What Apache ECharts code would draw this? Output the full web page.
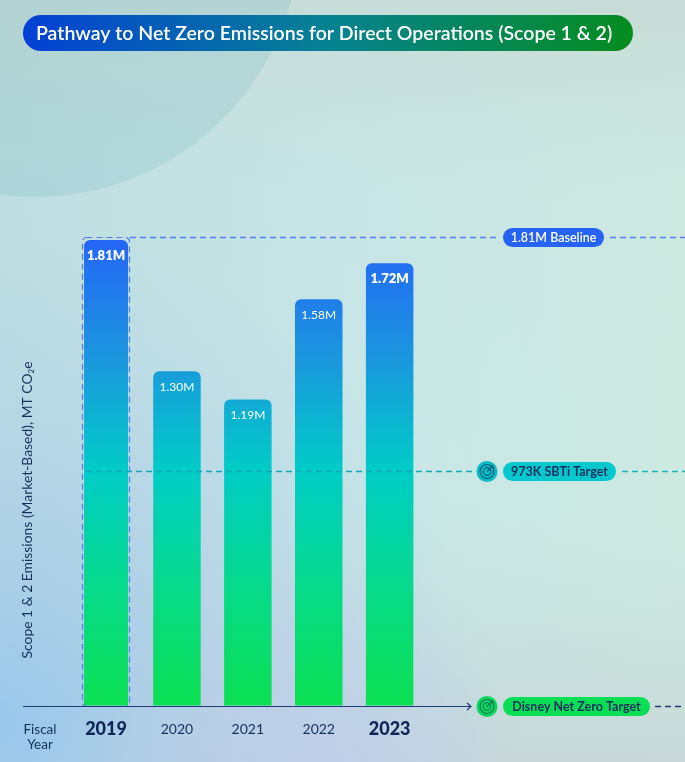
<!DOCTYPE html>
<html><head><meta charset="utf-8">
<style>html,body{margin:0;padding:0;background:#c8dfe0}#c{width:685px;height:762px}</style>
<script src="https://cdn.jsdelivr.net/npm/echarts@6/dist/echarts.min.js"></script>
</head><body><div id="c"></div>
<script>
const years = ['2019','2020','2021','2022','2023'];
const emphasised = ['2019','2023'];
const emissions = [1.81,1.30,1.19,1.58,1.72];
const valueLabels = ['1.81M','1.30M','1.19M','1.58M','1.72M'];
const baselineValue = 1.82;
const targetLineValue = 0.91;
const zeroValue = 0;
const titleText = 'Pathway to Net Zero Emissions for Direct Operations (Scope 1 & 2)';
const baselineText = '1.81M Baseline';
const targetText = '973K SBTi Target';
const zeroText = 'Disney Net Zero Target';

const FONT = 'Lato, "Noto Sans", sans-serif';
const NAVY = '#14305f';
const chart = echarts.init(document.getElementById('c'), null, {renderer:'canvas'});
const barFill = new echarts.graphic.LinearGradient(0,240,0,705.5,[
  {offset:0,color:'#2466f6'},{offset:0.25,color:'#1b96de'},{offset:0.5,color:'#00cdc6'},{offset:0.75,color:'#06da8a'},{offset:1,color:'#0be052'}
],true);
const isEm = i => emphasised.includes(years[i]);
const labelOf = i => ({show:true,position:'insideTop',distance:isEm(i)?9:10,color:'#fff',
  fontFamily:FONT,fontSize:isEm(i)?13:12,fontWeight:isEm(i)?800:400,formatter:valueLabels[i]});
const pick = f => emissions.map((v,i)=>f(i)?{value:v,label:labelOf(i)}:null);
const isFirst = i => i===0;
const hiddenX = {type:'category',data:years,show:false};

const option = {
  animation:false,
  grid:{left:70.6,width:354.5,top:240,bottom:56.5,containLabel:false},
  xAxis:[{type:'category',data:years,axisLine:{show:false},axisTick:{show:false},
    axisLabel:{margin:15,interval:0,fontFamily:FONT,color:NAVY,
      formatter:v=>emphasised.includes(v)?'{b|'+v+'}':'{n|'+v+'}',
      rich:{b:{fontSize:18,fontWeight:900,color:'#0f2557',fontFamily:FONT},n:{fontSize:14,color:NAVY,fontFamily:FONT,padding:[2,0,0,0]}}}},hiddenX],
  yAxis:{type:'value',min:0,max:1.81,show:false},
  series:[
    {type:'bar',xAxisIndex:1,barWidth:44,itemStyle:{color:barFill,borderRadius:[6,6,0,0]},data:pick(isFirst),z:1},
    {type:'bar',xAxisIndex:0,barWidth:47.5,itemStyle:{color:barFill,borderRadius:[6,6,0,0]},data:pick(i=>!isFirst(i)),z:1}
  ]
};
chart.setOption(option);

const snap = y => Math.round(y)+0.5;
const yOf = v => chart.convertToPixel({yAxisIndex:0},v);
const yB = snap(yOf(baselineValue)), yT = snap(yOf(targetLineValue)), yZ = snap(yOf(zeroValue));

function pill(left,right,y,h,fill,color,text,weight,size){
  return [
   {type:'rect',z:20,shape:{x:left,y:y-h/2,width:right-left,height:h,r:h/2},style:{fill}},
   {type:'text',z:21,x:(left+right)/2,y,style:{text,fill:color,font:weight+' '+size+'px '+FONT,align:'center',verticalAlign:'middle'}}
  ];
}
function dash(x1,x2,y,color,z){
  return {type:'line',z:z||2,shape:{x1,y1:y,x2,y2:y},style:{stroke:color,lineWidth:1.5,lineDash:[6,4]}};
}
function icon(cx,cy,fill,ring){
  return [
   {type:'circle',z:20,shape:{cx,cy,r:10.5},style:{fill}},
   {type:'circle',z:21,shape:{cx,cy,r:7},style:{fill:'none',stroke:ring,lineWidth:1.2}},
   {type:'circle',z:21,shape:{cx,cy,r:3.8},style:{fill:'none',stroke:ring,lineWidth:1.2}},
   {type:'line',z:21,shape:{x1:cx,y1:cy,x2:cx+6,y2:cy-6},style:{stroke:ring,lineWidth:1.2}},
   {type:'line',z:21,shape:{x1:cx+4,y1:cy-6,x2:cx+7,y2:cy-3},style:{stroke:ring,lineWidth:1.2}}
  ];
}
const bg = [
 {type:'rect',z:-10,silent:true,shape:{x:0,y:0,width:685,height:762},style:{fill:new echarts.graphic.LinearGradient(0,0,1,0,[{offset:0,color:'#bcdde2'},{offset:0.5,color:'#c7e6e8'},{offset:1,color:'#cdeae0'}])}},
 {type:'rect',z:-9,silent:true,shape:{x:0,y:0,width:685,height:762},style:{fill:new echarts.graphic.LinearGradient(0,0,0,1,[{offset:0,color:'rgba(200,218,214,0.9)'},{offset:0.25,color:'rgba(200,225,220,0.2)'},{offset:0.65,color:'rgba(200,225,220,0)'},{offset:1,color:'rgba(200,214,216,0.9)'}])}},
 {type:'rect',z:-8,silent:true,shape:{x:0,y:0,width:685,height:762},style:{fill:new echarts.graphic.RadialGradient(0,0.95,0.72,[{offset:0,color:'rgba(150,198,236,0.95)'},{offset:0.6,color:'rgba(175,205,232,0.45)'},{offset:1,color:'rgba(180,210,230,0)'}])}},
 {type:'rect',z:-8,silent:true,shape:{x:0,y:0,width:685,height:762},style:{fill:new echarts.graphic.RadialGradient(0.45,1.02,0.32,[{offset:0,color:'rgba(190,205,235,0.85)'},{offset:1,color:'rgba(190,205,235,0)'}])}},
 {type:'circle',z:-7,silent:true,shape:{cx:35,cy:-68,r:265},style:{fill:'rgba(120,190,195,0.24)'}}
];
const titleGrad = new echarts.graphic.LinearGradient(0,0,1,0,[{offset:0,color:'#0440d6'},{offset:0.5,color:'#078292'},{offset:1,color:'#048c1e'}]);
const BLUE_DASH = '#4f7fee', TEAL_DASH = '#1fb4c6', TEAL_ON_BAR = '#12a8b8';
const graphics = [].concat(
  bg,
  [{type:'rect',z:20,shape:{x:23,y:15,width:610,height:36,r:18},style:{fill:titleGrad}},
   {type:'text',z:21,x:36,y:33.5,style:{text:titleText,fill:'#fff',font:'600 19.5px '+FONT,verticalAlign:'middle'}}],
  [{type:'rect',z:2,shape:{x:82.5,y:yB,width:47,height:yZ-yB,r:4},style:{fill:'none',stroke:BLUE_DASH,lineWidth:1.2,lineDash:[6,4]}}],
  dash(130,498,yB,BLUE_DASH), dash(610,685,yB,BLUE_DASH),
  pill(503,604,yB,19,'#2763f2','#fff',baselineText,'600',12.5),
  dash(86,472,yT,TEAL_ON_BAR,4), dash(622,685,yT,TEAL_DASH),
  icon(487,yT,'#06bcc4','#155a78'),
  pill(503,616,yT,19,'#05c8ce',NAVY,targetText,'700',12.5),
  [{type:'line',z:5,shape:{x1:23,y1:yZ,x2:470,y2:yZ},style:{stroke:'#1f3a78',lineWidth:1.2}},
   {type:'polyline',z:5,shape:{points:[[467,yZ-3.5],[471,yZ],[467,yZ+3.5]]},style:{fill:'none',stroke:'#1f3a78',lineWidth:1.2}}],
  icon(487,yZ,'#0ad85c','#137a58'),
  pill(503,650,yZ,19,'#0ade55',NAVY,zeroText,'700',12.5),
  dash(655,685,yZ,'#1f3a78'),
  [{type:'text',z:10,x:40,y:737,style:{text:'Fiscal\nYear',fill:NAVY,font:'400 13.5px '+FONT,align:'center',verticalAlign:'middle',lineHeight:15}},
   {type:'text',z:10,x:28,y:510,rotation:Math.PI/2,
    style:{text:'Scope 1 & 2 Emissions (Market-Based), MT CO{s|2}e',fill:NAVY,align:'center',verticalAlign:'middle',
      font:'400 13.9px '+FONT,rich:{s:{fontSize:8,fontFamily:FONT,fill:NAVY,padding:[6,0,0,0]}}}}]
);
chart.setOption({graphic:{elements:graphics}});
</script></body></html>
